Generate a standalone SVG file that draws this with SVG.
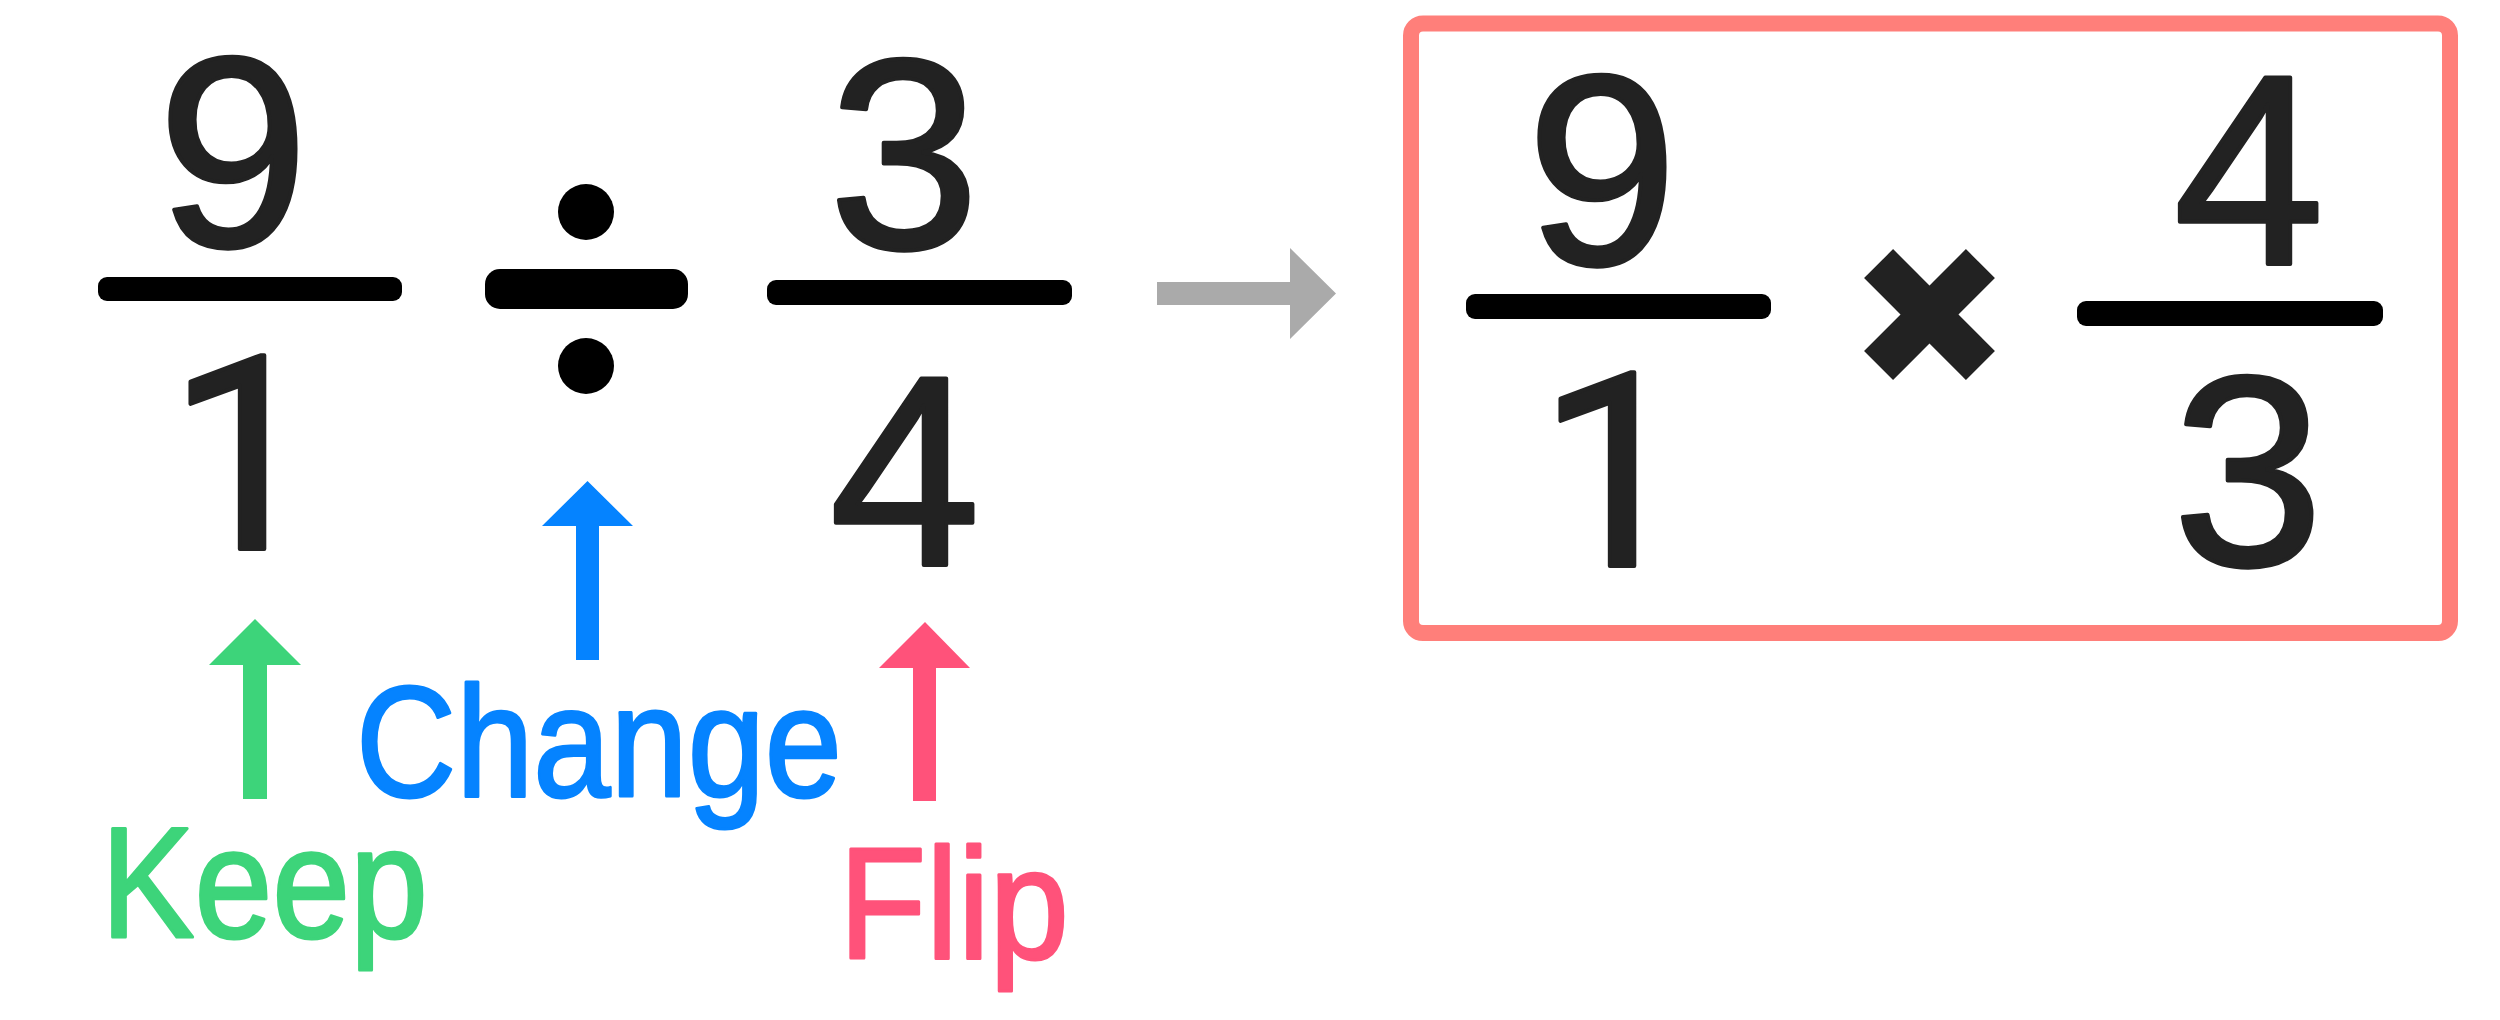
<svg xmlns="http://www.w3.org/2000/svg" width="2500" height="1020" viewBox="0 0 2500 1020">
<style>
.dig{font-family:"Liberation Sans",Arial,sans-serif;font-size:271px;fill:#222;stroke:#222;stroke-width:4;stroke-linejoin:round;text-anchor:middle}
.one{font-family:Roboto,"Open Sans",sans-serif;font-size:271px}
.bar{fill:#000}
.lbl{font-family:"Liberation Sans",Arial,sans-serif;font-size:158px;stroke-width:3;stroke-linejoin:round}
</style>
<rect width="2500" height="1020" fill="#fff"/>
<g id="frac-9-1-left">
<text class="dig" x="233" y="246">9</text>
<rect class="bar" x="98" y="277" width="304" height="24" rx="9"/>
<text class="dig one" x="244" y="549">1</text>
</g>
<g id="divide-sign">
<circle cx="586" cy="212" r="28" fill="#000"/>
<rect class="bar" x="485" y="269" width="203" height="40" rx="15"/>
<circle cx="586" cy="366" r="28" fill="#000"/>
</g>
<g id="frac-3-4">
<text class="dig" x="904" y="248">3</text>
<rect class="bar" x="767" y="280" width="305" height="25" rx="9"/>
<text class="dig" x="905" y="565">4</text>
</g>
<g id="result-box">
<rect x="1411" y="23.5" width="1039" height="609.5" rx="12" fill="none" stroke="#FF7F7A" stroke-width="16"/>
</g>
<g id="frac-9-1-right">
<text class="dig" x="1602" y="264">9</text>
<rect class="bar" x="1466" y="294" width="305" height="25" rx="9"/>
<text class="dig one" x="1614" y="566">1</text>
</g>
<g id="times-sign" fill="#222" transform="translate(1929.5,314.5)">
<rect x="-72" y="-20.5" width="144" height="41" transform="rotate(45)"/>
<rect x="-72" y="-20.5" width="144" height="41" transform="rotate(-45)"/>
</g>
<g id="frac-4-3">
<text class="dig" x="2249" y="264">4</text>
<rect class="bar" x="2077" y="301" width="306" height="25" rx="9"/>
<text class="dig" x="2248" y="565">3</text>
</g>
<g id="label-keep">
<text class="lbl" x="101" y="937" textLength="327" lengthAdjust="spacingAndGlyphs" fill="#3DD47A" stroke="#3DD47A">Keep</text>
</g>
<g id="label-change">
<text class="lbl" x="356" y="796" textLength="486" lengthAdjust="spacingAndGlyphs" fill="#0583FF" stroke="#0583FF">Change</text>
</g>
<g id="label-flip">
<text class="lbl" x="839" y="958" font-size="156" textLength="230" lengthAdjust="spacingAndGlyphs" fill="#FF527A" stroke="#FF527A">Flip</text>
</g>
<g id="connectors">
<polygon id="arrow-convert" fill="#AAAAAA" points="1157,282 1290,282 1290,248 1336,293.5 1290,339 1290,305 1157,305"/>
<polygon id="arrow-keep" fill="#3DD47A" points="255,619 301,665 267,665 267,799 243,799 243,665 209,665"/>
<polygon id="arrow-change" fill="#0583FF" points="587.5,481 633,526 599,526 599,660 576,660 576,526 542,526"/>
<polygon id="arrow-flip" fill="#FF527A" points="925,622 970,668 936,668 936,801 913,801 913,668 879,668"/>
</g>
</svg>
